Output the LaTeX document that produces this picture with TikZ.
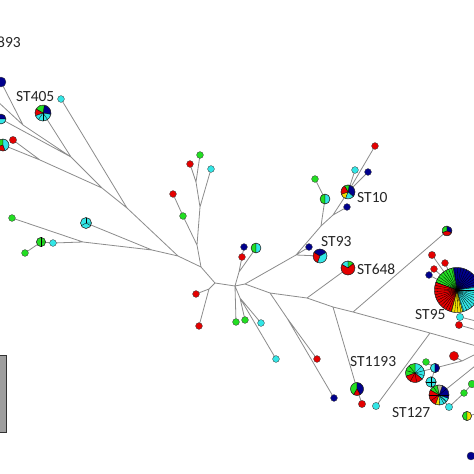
\documentclass[tikz,border=0pt]{standalone}
\usepackage{fontspec}
\setmainfont{Carlito}
\definecolor{nred}{RGB}{228,0,0}
\definecolor{ngreen}{RGB}{34,222,34}
\definecolor{ncyan}{RGB}{50,230,230}
\definecolor{nblue}{RGB}{0,0,140}
\definecolor{nyellow}{RGB}{242,222,0}
\definecolor{ngray}{RGB}{190,182,160}
\definecolor{linegray}{RGB}{140,140,140}
\tikzset{
  edge/.style={draw=linegray, line width=0.8pt},
  lbl/.style={font=\fontsize{15.5}{18}\selectfont, inner sep=0pt, text=black!85},
}
\newcommand{\ball}[3]{\filldraw[fill=#2, draw=black!75, line width=0.35pt] (#1) circle[radius=#3];}
\newcommand{\piec}[3]{%
  \foreach \pa/\pb/\pc in {#3}{\filldraw[fill=\pc, draw=black, line width=0.3pt] (#1) -- ++(\pa:#2) arc[start angle=\pa, end angle=\pb, radius=#2] -- cycle;}%
  \draw[black!75, line width=0.35pt] (#1) circle[radius=#2];}
\newcommand{\rays}[3]{\foreach \t in {#3}{\draw[black, line width=0.3pt] (#1) -- ++(\t:#2);}}
\begin{document}
\begin{tikzpicture}[x=1pt,y=-1pt]
\useasboundingbox (0,0) rectangle (474,474);
\fill[white] (0,0) rectangle (474,474);
% ---------- coordinates
\coordinate (bL1) at (1,82);
\coordinate (bcL) at (1,119);
\coordinate (pL) at (3,145);
\coordinate (rL) at (13,140);
\coordinate (st405) at (43,113);
\coordinate (cL) at (61,99);
\coordinate (eL) at (-4,100);
\coordinate (jA) at (23,125);
\coordinate (jB) at (71,157);
\coordinate (jC) at (40,160);
\coordinate (jD) at (102,188);
\coordinate (jE) at (127,208);
\coordinate (gL) at (12,218);
\coordinate (cT) at (86,223);
\coordinate (cL2) at (53,243);
\coordinate (gX) at (41,242);
\coordinate (gL2) at (25,253);
\coordinate (jH) at (83,242);
\coordinate (jG) at (152,250);
\coordinate (j3) at (178,256);
\coordinate (j2) at (201,267);
\coordinate (j4) at (197,245);
\coordinate (j5) at (200,207);
\coordinate (j6) at (196,182);
\coordinate (gT1) at (200,155);
\coordinate (rT1) at (190,164);
\coordinate (cT1) at (211,169);
\coordinate (rT2) at (173,194);
\coordinate (gT2) at (183,216);
\coordinate (j1) at (215,283);
\coordinate (j1a) at (209,289);
\coordinate (rB1) at (196,294);
\coordinate (rB2) at (199,326);
\coordinate (j12) at (235,286);
\coordinate (j13) at (245,284);
\coordinate (j14) at (239,272);
\coordinate (rH) at (242,257);
\coordinate (bH) at (244,247);
\coordinate (gcH) at (256,248);
\coordinate (j15) at (240,298);
\coordinate (gD1) at (236,322);
\coordinate (gD2) at (245,320);
\coordinate (cD1) at (261,323);
\coordinate (cD2) at (276,359);
\coordinate (j24) at (296,255);
\coordinate (bU) at (309,247);
\coordinate (st93) at (320,256);
\coordinate (j23) at (321,226);
\coordinate (j20) at (333,215);
\coordinate (gcU) at (325,199);
\coordinate (gU) at (315,179);
\coordinate (bU2) at (347,207);
\coordinate (st10) at (348,192);
\coordinate (cU) at (355,170);
\coordinate (bU3) at (368,172);
\coordinate (rU) at (375,146);
\coordinate (m1) at (270,293);
\coordinate (m2) at (307,298);
\coordinate (m3) at (333,307);
\coordinate (m4) at (353,312);
\coordinate (m5) at (430,333);
\coordinate (eM) at (480,347);
\coordinate (k1) at (287,318);
\coordinate (rK) at (317,359);
\coordinate (bK) at (334,398);
\coordinate (st648) at (348,268);
\coordinate (st1193) at (357,389);
\coordinate (rS) at (362,404);
\coordinate (pR) at (447,231);
\coordinate (cS) at (376,406);
\coordinate (st95) at (457,290);
\coordinate (r95a) at (432,255);
\coordinate (r95b) at (445,263);
\coordinate (r95c) at (434,269);
\coordinate (b95) at (429,275);
\coordinate (c95) at (460,317);
\coordinate (r95d) at (459,325);
\coordinate (e95a) at (480,322);
\coordinate (e95b) at (480,331);
\coordinate (rR) at (454,356);
\coordinate (gR) at (426,362);
\coordinate (bigR) at (415,373);
\coordinate (cbR) at (435,368);
\coordinate (cxR) at (431,382);
\coordinate (st127) at (439,395);
\coordinate (cR) at (449,407);
\coordinate (gR2) at (464,393);
\coordinate (gR3) at (472,384);
\coordinate (gyR) at (467,416);
\coordinate (bR) at (471,456);
\coordinate (j30) at (462,361);
\coordinate (eR1) at (480,352);
\coordinate (eR2) at (480,362);
\coordinate (eR3) at (480,376);
\coordinate (eR4) at (480,413);
% ---------- connectors
\draw[edge] (eL) -- (jA) (bL1) -- (jA) (jA) -- (jB) (bcL) -- (jB) (st405) -- (jB)
  (jB) -- (jD) (pL) -- (jC) (rL) -- (jC) (jC) -- (jD) (jD) -- (jE) (cL) -- (jE)
  (jE) -- (j3) (gL) -- (jH) (cL2) -- (jH) (gX) -- (cL2) (gL2) -- (gX) (jH) -- (jG)
  (cT) -- (jG) (jG) -- (j3) (j3) -- (j2) (j2) -- (j4) (j4) -- (gT2) (gT2) -- (rT2)
  (j4) -- (j5) (j5) -- (cT1) (j5) -- (j6) (j6) -- (rT1) (j6) -- (gT1) (j2) -- (j1)
  (j1) -- (j1a) (j1a) -- (rB1) (j1a) -- (rB2) (j1) -- (j12) (j12) -- (j13)
  (j12) -- (j14) (j14) -- (rH) (rH) -- (bH) (j14) -- (gcH) (j12) -- (gD1)
  (j12) -- (j15) (j15) -- (gD2) (j15) -- (cD1) (j15) -- (cD2)
  (j13) -- (j24) (j24) -- (bU) (j24) -- (st93) (j24) -- (j23) (j23) -- (gcU)
  (gcU) -- (gU) (j23) -- (j20) (j20) -- (bU2) (j20) -- (st10) (st10) -- (cU)
  (st10) -- (bU3) (st10) -- (rU)
  (j13) -- (m1) (m1) -- (m2) (m2) -- (m3) (m3) -- (m4) (m4) -- (m5) (m5) -- (eM)
  (m1) -- (k1) (k1) -- (rK) (k1) -- (bK) (m2) -- (st648) (m3) -- (st1193)
  (st1193) -- (rS) (m4) -- (pR) (m5) -- (cS)
  (r95a) -- (st95) (r95b) -- (st95) (r95c) -- (st95) (b95) -- (st95)
  (c95) -- (e95a) (r95d) -- (e95b)
  (rR) -- (j30) (cbR) -- (j30) (j30) -- (eR1) (bigR) -- (cbR) (gR) -- (cbR)
  (cxR) -- (cbR) (st127) -- (eR2) (cR) -- (st127) (cR) -- (gR2) (gR2) -- (gR3)
  (gR3) -- (eR3) (gyR) -- (eR4);
% ---------- single-colour nodes
\ball{bL1}{nblue}{5pt}
\ball{rL}{nred}{3.6pt}
\ball{cL}{ncyan}{3.4pt}
\ball{gL}{ngreen}{3.4pt}
\ball{cL2}{ncyan}{3.4pt}
\ball{gL2}{ngreen}{3.4pt}
\ball{gT1}{ngreen}{3.4pt}
\ball{rT1}{nred}{3.4pt}
\ball{cT1}{ncyan}{3.4pt}
\ball{rT2}{nred}{3.4pt}
\ball{gT2}{ngreen}{3.4pt}
\ball{rB1}{nred}{3.4pt}
\ball{rB2}{nred}{3.4pt}
\ball{rH}{nred}{3.4pt}
\ball{bH}{nblue}{3.4pt}
\ball{gD1}{ngreen}{3.4pt}
\ball{gD2}{ngreen}{3.4pt}
\ball{cD1}{ncyan}{3.4pt}
\ball{cD2}{ncyan}{3.4pt}
\ball{bU}{nblue}{3.4pt}
\ball{gU}{ngreen}{3.4pt}
\ball{bU2}{nblue}{3.4pt}
\ball{cU}{ncyan}{3.4pt}
\ball{bU3}{nblue}{3.4pt}
\ball{rU}{nred}{3.4pt}
\ball{rK}{nred}{3.4pt}
\ball{bK}{nblue}{3.4pt}
\ball{rS}{nred}{3.6pt}
\ball{cS}{ncyan}{3.6pt}
\ball{r95a}{nred}{3.6pt}
\ball{r95b}{nred}{3.4pt}
\ball{r95c}{nred}{3.4pt}
\ball{b95}{nblue}{3.4pt}
\ball{c95}{ncyan}{3.6pt}
\ball{r95d}{nred}{3.6pt}
\ball{rR}{nred}{4.6pt}
\ball{gR}{ngreen}{3.4pt}
\ball{cR}{ncyan}{3.6pt}
\ball{gR2}{ngreen}{3.4pt}
\ball{gR3}{ngreen}{3.8pt}
\ball{bR}{nblue}{4pt}
% ---------- pies
\piec{bcL}{5pt}{0/180/nblue,180/360/ncyan}
\piec{pL}{6pt}{90/200/ngreen,200/290/nred,290/450/ncyan}
\piec{st405}{8pt}{-10/80/nblue,80/150/ngreen,150/200/nred,200/350/ncyan}
\rays{st405}{8pt}{235,270,305}
\piec{cT}{5.5pt}{0/360/ncyan}
\rays{cT}{5.5pt}{90,210,330}
\piec{gX}{4.6pt}{0/360/ngreen}
\rays{gX}{4.6pt}{90,270}
\piec{gcH}{5pt}{90/270/ngreen,270/450/ncyan}
\piec{gcU}{5pt}{90/270/ngreen,-90/90/ncyan}
\piec{st10}{7pt}{-40/80/nblue,80/120/ngreen,120/200/nred,200/250/nyellow,250/320/ncyan}
\piec{st93}{7pt}{30/150/nblue,150/250/nred,250/390/ncyan}
\piec{st648}{7pt}{40/90/ngreen,90/150/ncyan,150/400/nred}
\piec{pR}{5pt}{90/200/ngreen,-20/90/nblue,200/340/nred}
\piec{st1193}{6.5pt}{90/240/ngreen,-60/90/nblue,240/300/nred}
\piec{bigR}{9.5pt}{-40/90/ncyan,90/200/ngreen,200/320/nred}
\rays{bigR}{9.5pt}{-15,15,45,130,165,240,280}
\piec{cbR}{4.6pt}{90/270/ncyan,-90/90/nblue}
\piec{cxR}{5.2pt}{0/360/ncyan}
\rays{cxR}{5.2pt}{0,90,180,270}
\piec{st127}{10pt}{-20/70/nblue,70/100/ngray,100/150/ngreen,150/250/nred,250/275/nyellow,275/340/ncyan}
\rays{st127}{10pt}{-45,0,40,125,180,215,300,320}
\piec{gyR}{4.6pt}{90/270/ngreen,-90/90/nyellow}
\piec{st95}{22.5pt}{10/100/nblue,100/160/ngreen,160/255/nred,255/285/nyellow,285/370/ncyan}
\rays{st95}{22.5pt}{0,8,...,352}
% ---------- labels
\node[lbl, anchor=east] (l893) at (21,42) {ST893};
\node[lbl, anchor=west] (l405) at (16,97) {ST405};
\node[lbl, anchor=west] (l10) at (357,198) {ST10};
\node[lbl, anchor=west] (l93) at (321,242) {ST93};
\node[lbl, anchor=west] (l648) at (357,269) {ST648};
\node[lbl, anchor=west] (l95) at (415,315) {ST95};
\node[lbl, anchor=west] (l1193) at (350,362) {ST1193};
\node[lbl, anchor=west] (l127) at (392,413) {ST127};
% ---------- grey bar
\filldraw[fill=black!38, draw=black!80, line width=0.6pt] (-3,355) rectangle (6,432);
\end{tikzpicture}
\end{document}
